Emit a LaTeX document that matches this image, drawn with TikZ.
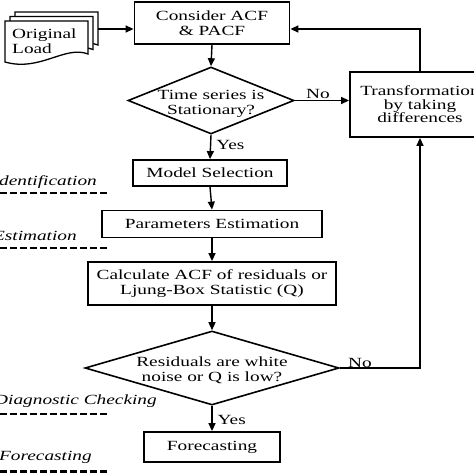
\documentclass[tikz,border=0pt]{standalone}
\usepackage{fontspec}
\setmainfont{Liberation Serif}[FakeStretch=1.38]
\usetikzlibrary{arrows.meta,shapes.geometric}

\begin{document}
\begin{tikzpicture}[x=1pt,y=-1pt,>={Triangle[length=8pt,width=7pt]},
  every node/.style={font=\fontsize{14}{15}\selectfont},
  box/.style={draw,line width=1.8pt,align=center,inner sep=0pt},
  dia/.style={draw,diamond,line width=1.6pt,inner sep=0pt},
  lbl/.style={font=\fontsize{14}{15}\selectfont\itshape,anchor=base east,inner sep=0pt},
  sep/.style={line width=1.3pt,dash pattern=on 6.5pt off 3.5pt},
  link/.style={->,line width=1.4pt}]
\useasboundingbox (0,0) rectangle (474,474); \clip (0,0) rectangle (474,474);
% input document stack
\foreach \o in {10,5,0} \draw[line width=1.3pt,fill=white,shift={(\o,-0.9*\o)}] (5,21)--(88,21)--(88,54) .. controls (65,45) and (40,72) .. (5,62)--cycle;
\node[align=left,anchor=west,inner sep=0pt] (load) at (12,41) {Original\\Load};
\coordinate (loadR) at (98,29);
% main column
\node[box,minimum width=155pt,minimum height=42pt] (acf) at (212,23) {Consider ACF\\\& PACF};
\node[dia,minimum width=166pt,minimum height=67pt,label={[align=center,yshift=-3pt]center:Time series is\\Stationary?}] (q1) at (211,100.5) {};
\node[box,minimum width=154pt,minimum height=26pt] (sel) at (210,173) {Model Selection};
\node[box,minimum width=220pt,minimum height=27pt] (est) at (212,224) {Parameters Estimation};
\node[box,minimum width=248pt,minimum height=43pt] (calc) at (212,283.5) {Calculate ACF of residuals or\\Ljung-Box Statistic (Q)};
\node[dia,minimum width=254pt,minimum height=74pt,label={[align=center,yshift=-2.5pt]center:Residuals are white\\noise or Q is low?}] (q2) at (212,368) {};
\node[box,minimum width=136pt,minimum height=30pt] (fc) at (212,447) {Forecasting};
\node[box,minimum width=140pt,minimum height=65pt,font=\fontsize{14}{13.5}\selectfont] (tr) at (420,104.5) {Transformation\\by taking\\differences};
% connectors
\draw[link] (loadR) -- (acf.west |- loadR);
\draw[link] (acf.south) -- (q1.north);
\draw[link] (q1.south) -- (sel.north) node[pos=0.42,right,inner sep=5pt] (yes1) {Yes};
\draw[link] (sel.south) -- (est.north);
\draw[link] (est.south) -- (calc.north);
\draw[link] (calc.south) -- (q2.north);
\draw[link] (q2.south) -- (fc.north) node[pos=0.55,right,inner sep=5pt] (yes2) {Yes};
\draw[link] (q1.east) -- (q1.east -| tr.west);
\node (no1) at (318,94) {No};
\draw[link] (tr.north) |- (acf.east |- loadR);
\draw[link] (q2.east) -| (tr.south);
\node (no2) at (360,363) {No};
% stage labels
\node[lbl] (ident) at (97,185) {Identification};
\node[lbl] (estim) at (77,240) {Estimation};
\node[lbl] (diag) at (157,404) {Diagnostic Checking};
\node[lbl] (fcast) at (92,460) {Forecasting};
\foreach \y in {193,248,414} \draw[sep] (0,\y) -- (110,\y);
\draw[sep,line width=3pt] (0,471) -- (110,471);
\end{tikzpicture}
\end{document}
